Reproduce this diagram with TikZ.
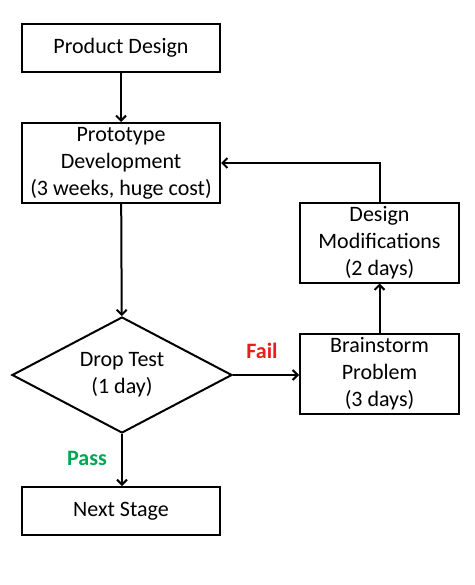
\documentclass[tikz,border=0pt]{standalone}
\usepackage{fontspec}
\setmainfont{Carlito}
\usepackage{xcolor}
\usepackage{tikz}
\usetikzlibrary{positioning, arrows.meta, shapes.geometric}

\definecolor{failred}{HTML}{E61E1E}
\definecolor{passgreen}{HTML}{00A651}

\begin{document}
\begin{tikzpicture}[
    x=1pt, y=-1pt,
    line width=2pt,
    every node/.style={font=\fontsize{22}{27}\selectfont},
    cnode/.style={draw, minimum width=198pt, minimum height=48pt, inner sep=1pt, align=center},
    snode/.style={draw, minimum width=159pt, minimum height=80pt, inner sep=1pt, align=center},
    dnode/.style={draw, diamond, aspect=1.88, minimum width=220pt, minimum height=116pt, inner sep=0pt, align=center},
    arr/.style={-{Straight Barb[length=5pt, width=10pt, line width=2pt]}}
]
\useasboundingbox (0,0) rectangle (474,585);

\node[cnode] (design) at (121, 48) {Product Design};
\node[cnode, minimum height=80pt] (proto) at (121, 163) {Prototype \\ Development \\ (3 weeks, huge cost)};
\node[snode] (modif) at (379.5, 242.5) {Design \\ Modifications \\ (2 days)};
\node[dnode] (test) at (122, 375) {Drop Test \\ (1 day)};
\node[snode] (brain) at (379.5, 374) {Brainstorm \\ Problem \\ (3 days)};
\node[cnode] (next) at (121, 511) {Next Stage};

\node[text=failred, font=\fontsize{22}{27}\selectfont\bfseries] (fail) at (262, 351) {Fail};
\node[text=passgreen, font=\fontsize{22}{27}\selectfont\bfseries] (pass) at (87, 458) {Pass};

\draw[arr] (design) -- (proto);
\draw[arr] (proto) -- (test);
\draw[arr] (test.east) -- (brain.west |- test.east);
\draw[arr] (brain) -- (modif);
\draw[arr] (modif.north) |- (proto.east);
\draw[arr] (test.south) -- (next.north -| test.south);
\end{tikzpicture}
\end{document}
